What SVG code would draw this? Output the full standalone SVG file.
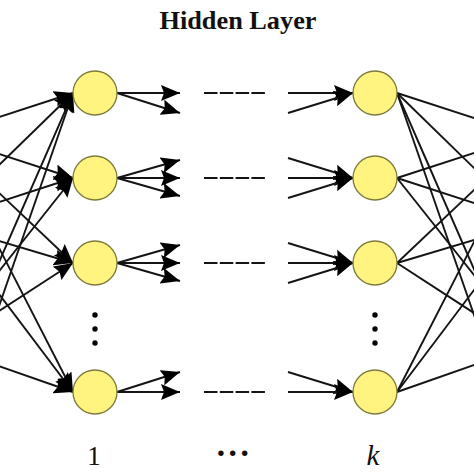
<svg xmlns="http://www.w3.org/2000/svg" width="474" height="474" viewBox="0 0 474 474">
<defs>
<marker id="ah" markerUnits="userSpaceOnUse" markerWidth="20" markerHeight="16" refX="19" refY="8" orient="auto">
<path d="M0,0 L19,8 L0,16 L3,8 z" fill="#000"/>
</marker>
<style>
.n{fill:#FFF480;stroke:#7d7a3c;stroke-width:1.3}
.c line{stroke:#141414;stroke-width:1.9;fill:none}
.a{marker-end:url(#ah)}
.d{stroke:#6e6e6e;stroke-width:2;stroke-dasharray:13.5 2.3}
</style>
</defs>
<rect width="474" height="474" fill="#fff"/>
<text font-family="'Liberation Serif', 'Times New Roman', serif" fill="#111" x="238" y="29" font-size="26" font-weight="bold" text-anchor="middle" textLength="157" lengthAdjust="spacingAndGlyphs">Hidden Layer</text>
<g id="connectors" class="c">
<line class="a" x1="-14" y1="121.2" x2="73" y2="93"/>
<line class="a" x1="-14" y1="177.7" x2="73" y2="93"/>
<line class="a" x1="-14" y1="291.9" x2="73" y2="93"/>
<line class="a" x1="-14" y1="343.8" x2="73" y2="93"/>
<line class="a" x1="-14" y1="149.8" x2="73" y2="178"/>
<line class="a" x1="-14" y1="206.2" x2="73" y2="178"/>
<line class="a" x1="-14" y1="287.6" x2="73" y2="178"/>
<line class="a" x1="-14" y1="180.5" x2="73" y2="263"/>
<line class="a" x1="-14" y1="237" x2="73" y2="263"/>
<line class="a" x1="-14" y1="319.5" x2="73" y2="263"/>
<line class="a" x1="-14" y1="222.5" x2="73" y2="392"/>
<line class="a" x1="-14" y1="276.8" x2="73" y2="392"/>
<line class="a" x1="-14" y1="361.5" x2="73" y2="392"/>
<line class="a" x1="117" y1="93" x2="180" y2="93"/>
<line class="a" x1="117" y1="93" x2="180" y2="113"/>
<line class="a" x1="117" y1="178" x2="180" y2="160"/>
<line class="a" x1="117" y1="178" x2="180" y2="178"/>
<line class="a" x1="117" y1="178" x2="180" y2="196"/>
<line class="a" x1="117" y1="263" x2="180" y2="245"/>
<line class="a" x1="117" y1="263" x2="180" y2="263"/>
<line class="a" x1="117" y1="263" x2="180" y2="281"/>
<line class="a" x1="117" y1="392" x2="180" y2="372"/>
<line class="a" x1="117" y1="392" x2="180" y2="392"/>
<line class="d" x1="204" y1="93" x2="265" y2="93"/>
<line class="d" x1="204" y1="178" x2="265" y2="178"/>
<line class="d" x1="204" y1="263" x2="265" y2="263"/>
<line class="d" x1="204" y1="392" x2="265" y2="392"/>
<line class="a" x1="288" y1="93" x2="353" y2="93"/>
<line class="a" x1="288" y1="113" x2="353" y2="93"/>
<line class="a" x1="288" y1="158" x2="353" y2="178"/>
<line class="a" x1="288" y1="178" x2="353" y2="178"/>
<line class="a" x1="288" y1="198" x2="353" y2="178"/>
<line class="a" x1="288" y1="243" x2="353" y2="263"/>
<line class="a" x1="288" y1="263" x2="353" y2="263"/>
<line class="a" x1="288" y1="283" x2="353" y2="263"/>
<line class="a" x1="288" y1="372" x2="353" y2="392"/>
<line class="a" x1="288" y1="392" x2="353" y2="392"/>
<line x1="397" y1="93" x2="484" y2="121.2"/>
<line x1="397" y1="93" x2="484" y2="177.7"/>
<line x1="397" y1="93" x2="484" y2="291.9"/>
<line x1="397" y1="93" x2="484" y2="343.8"/>
<line x1="397" y1="178" x2="484" y2="149.8"/>
<line x1="397" y1="178" x2="484" y2="206.2"/>
<line x1="397" y1="178" x2="484" y2="287.6"/>
<line x1="397" y1="263" x2="484" y2="180.5"/>
<line x1="397" y1="263" x2="484" y2="237"/>
<line x1="397" y1="263" x2="484" y2="319.5"/>
<line x1="397" y1="392" x2="484" y2="222.5"/>
<line x1="397" y1="392" x2="484" y2="276.8"/>
<line x1="397" y1="392" x2="484" y2="361.5"/>
</g>
<g id="h1-1"><circle class="n" cx="95" cy="93" r="22"/></g>
<g id="h1-2"><circle class="n" cx="95" cy="178" r="22"/></g>
<g id="h1-3"><circle class="n" cx="95" cy="263" r="22"/></g>
<g id="h1-4"><circle class="n" cx="95" cy="392" r="22"/></g>
<g id="hk-1"><circle class="n" cx="375" cy="93" r="22"/></g>
<g id="hk-2"><circle class="n" cx="375" cy="178" r="22"/></g>
<g id="hk-3"><circle class="n" cx="375" cy="263" r="22"/></g>
<g id="hk-4"><circle class="n" cx="375" cy="392" r="22"/></g>
<g id="vdots" fill="#000">
<circle cx="95" cy="315" r="2.7"/><circle cx="95" cy="329" r="2.7"/><circle cx="95" cy="343" r="2.7"/>
<circle cx="375" cy="315" r="2.7"/><circle cx="375" cy="329" r="2.7"/><circle cx="375" cy="343" r="2.7"/>
</g>
<text font-family="'Liberation Serif', 'Times New Roman', serif" fill="#111" x="94" y="465" font-size="27" text-anchor="middle">1</text>
<text font-family="'Liberation Serif', 'Times New Roman', serif" fill="#111" x="233" y="464" font-size="34" font-weight="bold" text-anchor="middle" letter-spacing="0.5">···</text>
<text font-family="'Liberation Serif', 'Times New Roman', serif" fill="#111" x="373" y="465" font-size="29" font-style="italic" text-anchor="middle">k</text>
</svg>
